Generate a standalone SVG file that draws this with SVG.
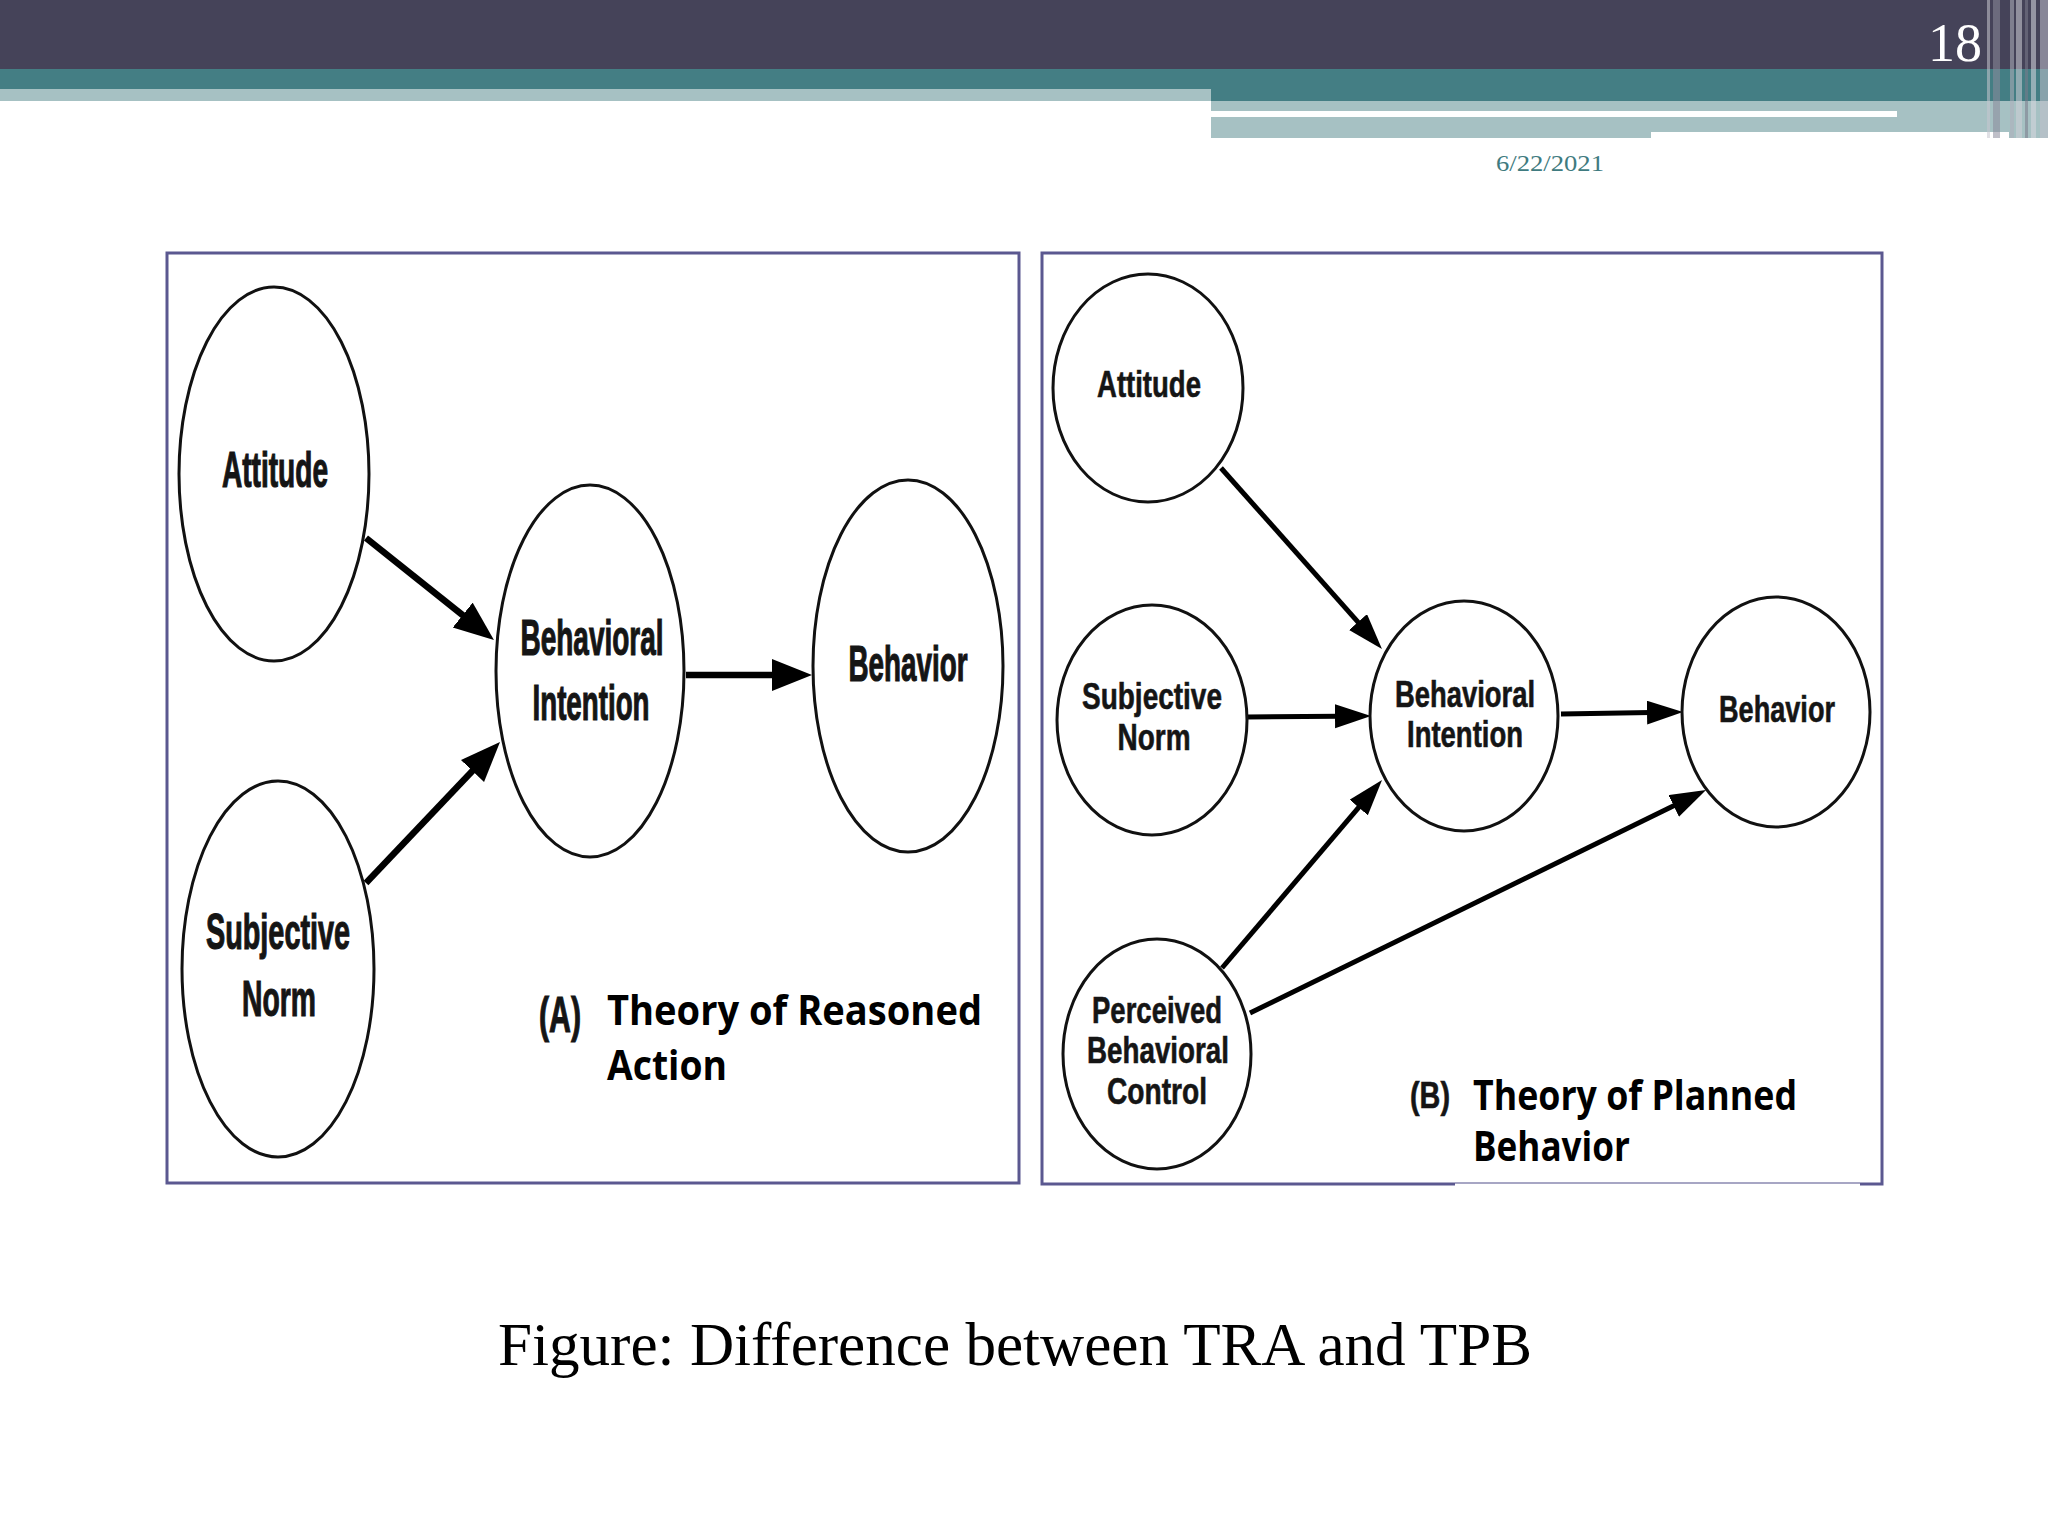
<svg xmlns="http://www.w3.org/2000/svg" width="2048" height="1536" viewBox="0 0 2048 1536">
<defs>
<style>
.node{fill:#fff;stroke:#111;stroke-width:3}
.lbl{font-family:"Liberation Sans",Arial,sans-serif;font-weight:bold;fill:#151515;text-anchor:middle}
.l1{font-size:50px;stroke:#151515;stroke-width:1.2}
.l2{font-size:36px;stroke:#151515;stroke-width:0.6}
.cap{font-family:"Open Sans","Liberation Sans",sans-serif;font-weight:bold;fill:#000;font-size:42px}
.conA{stroke:#000;stroke-width:6.5;fill:none}
.conB{stroke:#000;stroke-width:5;fill:none}
.box{fill:#fff;stroke:#5b5890;stroke-width:3}
</style>
<marker id="ha" markerUnits="userSpaceOnUse" markerWidth="42" markerHeight="34" refX="4" refY="16" orient="auto">
<path d="M0,0 L40,16 L0,32 z" fill="#000"/>
</marker>
<marker id="hb" markerUnits="userSpaceOnUse" markerWidth="38" markerHeight="26" refX="4" refY="12" orient="auto">
<path d="M0,0 L36,12 L0,24 z" fill="#000"/>
</marker>
</defs>
<rect width="2048" height="1536" fill="#fff"/>
<g id="header">
<rect x="0" y="0" width="2048" height="69" fill="#454359"/>
<rect x="0" y="69" width="2048" height="32" fill="#447e84"/>
<rect x="0" y="89" width="1211" height="12" fill="#a6c1c3"/>
<rect x="1211" y="101" width="837" height="37" fill="#a6c1c3"/>
<rect x="1211" y="111" width="686" height="6" fill="#fff"/>
<rect x="1651" y="132" width="358" height="6" fill="#fff"/>
<g opacity="0.55">
<rect x="1987" y="0" width="3" height="138" fill="#c8c8d0"/>
<rect x="1993" y="0" width="7" height="138" fill="#8c8c9c"/>
<rect x="2010" y="0" width="4" height="138" fill="#b0b0bc"/>
<rect x="2016" y="0" width="6" height="138" fill="#d0d0d8"/>
<rect x="2025" y="0" width="3" height="138" fill="#7c7c8c"/>
<rect x="2031" y="0" width="5" height="138" fill="#d8d8e0"/>
<rect x="2040" y="0" width="8" height="138" fill="#c0c0cc"/>
</g>
<text x="1955" y="61" font-family="'Liberation Serif',serif" font-size="54" fill="#fff" text-anchor="middle">18</text>
<text x="1496" y="171" font-family="'Liberation Serif',serif" font-size="23" fill="#3f7b80" textLength="108" lengthAdjust="spacingAndGlyphs">6/22/2021</text>
</g>
<rect class="box" x="167" y="253" width="852" height="930"/>
<rect class="box" x="1042" y="253" width="840" height="931"/>
<rect x="1455" y="1182" width="405" height="4" fill="#fff"/>
<line x1="1455" y1="1183" x2="1860" y2="1183" stroke="#8a88b0" stroke-width="1.5"/>
<g id="connectors">
<line class="conA" x1="366" y1="538" x2="465.8" y2="617.6" marker-end="url(#ha)"/>
<line class="conA" x1="366" y1="883" x2="475.2" y2="768.1" marker-end="url(#ha)"/>
<line class="conA" x1="686" y1="675" x2="776" y2="675" marker-end="url(#ha)"/>
<line class="conB" x1="1221" y1="468" x2="1360.7" y2="625.1" marker-end="url(#hb)"/>
<line class="conB" x1="1247" y1="717" x2="1339" y2="716.3" marker-end="url(#hb)"/>
<line class="conB" x1="1561" y1="714" x2="1651" y2="712.5" marker-end="url(#hb)"/>
<line class="conB" x1="1222" y1="968" x2="1361.3" y2="804.4" marker-end="url(#hb)"/>
<line class="conB" x1="1250" y1="1013" x2="1677.3" y2="804.1" marker-end="url(#hb)"/>
</g>
<g id="a-attitude">
<ellipse class="node" cx="274" cy="474" rx="95" ry="187"/>
<text class="lbl l1" x="275" y="487" textLength="106" lengthAdjust="spacingAndGlyphs">Attitude</text>
</g>
<g id="a-subjective-norm">
<ellipse class="node" cx="278" cy="969" rx="96" ry="188"/>
<text class="lbl l1" x="278" y="949" textLength="144" lengthAdjust="spacingAndGlyphs">Subjective</text>
<text class="lbl l1" x="279" y="1016" textLength="74" lengthAdjust="spacingAndGlyphs">Norm</text>
</g>
<g id="a-intention">
<ellipse class="node" cx="590" cy="671" rx="94" ry="186"/>
<text class="lbl l1" x="592" y="655" textLength="143" lengthAdjust="spacingAndGlyphs">Behavioral</text>
<text class="lbl l1" x="591" y="720" textLength="117" lengthAdjust="spacingAndGlyphs">Intention</text>
</g>
<g id="a-behavior">
<ellipse class="node" cx="908" cy="666" rx="95" ry="186"/>
<text class="lbl l1" x="908" y="681" textLength="119" lengthAdjust="spacingAndGlyphs">Behavior</text>
</g>
<g id="a-caption">
<text class="lbl l1" x="560" y="1032" textLength="42" lengthAdjust="spacingAndGlyphs">(A)</text>
<text class="cap" x="607" y="1025" textLength="375" lengthAdjust="spacingAndGlyphs">Theory of Reasoned</text>
<text class="cap" x="607" y="1080" textLength="120" lengthAdjust="spacingAndGlyphs">Action</text>
</g>
<g id="b-attitude">
<ellipse class="node" cx="1148" cy="388" rx="95" ry="114"/>
<text class="lbl l2" x="1149" y="397" textLength="104" lengthAdjust="spacingAndGlyphs">Attitude</text>
</g>
<g id="b-subjective-norm">
<ellipse class="node" cx="1152" cy="720" rx="95" ry="115"/>
<text class="lbl l2" x="1152" y="709" textLength="140" lengthAdjust="spacingAndGlyphs">Subjective</text>
<text class="lbl l2" x="1154" y="750" textLength="73" lengthAdjust="spacingAndGlyphs">Norm</text>
</g>
<g id="b-pbc">
<ellipse class="node" cx="1157" cy="1054" rx="94" ry="115"/>
<text class="lbl l2" x="1157" y="1023" textLength="130" lengthAdjust="spacingAndGlyphs">Perceived</text>
<text class="lbl l2" x="1158" y="1063" textLength="142" lengthAdjust="spacingAndGlyphs">Behavioral</text>
<text class="lbl l2" x="1157" y="1104" textLength="100" lengthAdjust="spacingAndGlyphs">Control</text>
</g>
<g id="b-intention">
<ellipse class="node" cx="1464" cy="716" rx="94" ry="115"/>
<text class="lbl l2" x="1465" y="707" textLength="140" lengthAdjust="spacingAndGlyphs">Behavioral</text>
<text class="lbl l2" x="1465" y="747" textLength="116" lengthAdjust="spacingAndGlyphs">Intention</text>
</g>
<g id="b-behavior">
<ellipse class="node" cx="1776" cy="712" rx="94" ry="115"/>
<text class="lbl l2" x="1777" y="722" textLength="116" lengthAdjust="spacingAndGlyphs">Behavior</text>
</g>
<g id="b-caption">
<text class="lbl l2" x="1430" y="1108" textLength="40" lengthAdjust="spacingAndGlyphs">(B)</text>
<text class="cap" x="1473" y="1110" textLength="324" lengthAdjust="spacingAndGlyphs">Theory of Planned</text>
<text class="cap" x="1473" y="1161" textLength="157" lengthAdjust="spacingAndGlyphs">Behavior</text>
</g>
<text x="498" y="1365" font-family="'Liberation Serif',serif" font-size="62" fill="#000" textLength="1034" lengthAdjust="spacingAndGlyphs">Figure: Difference between TRA and TPB</text>
</svg>
